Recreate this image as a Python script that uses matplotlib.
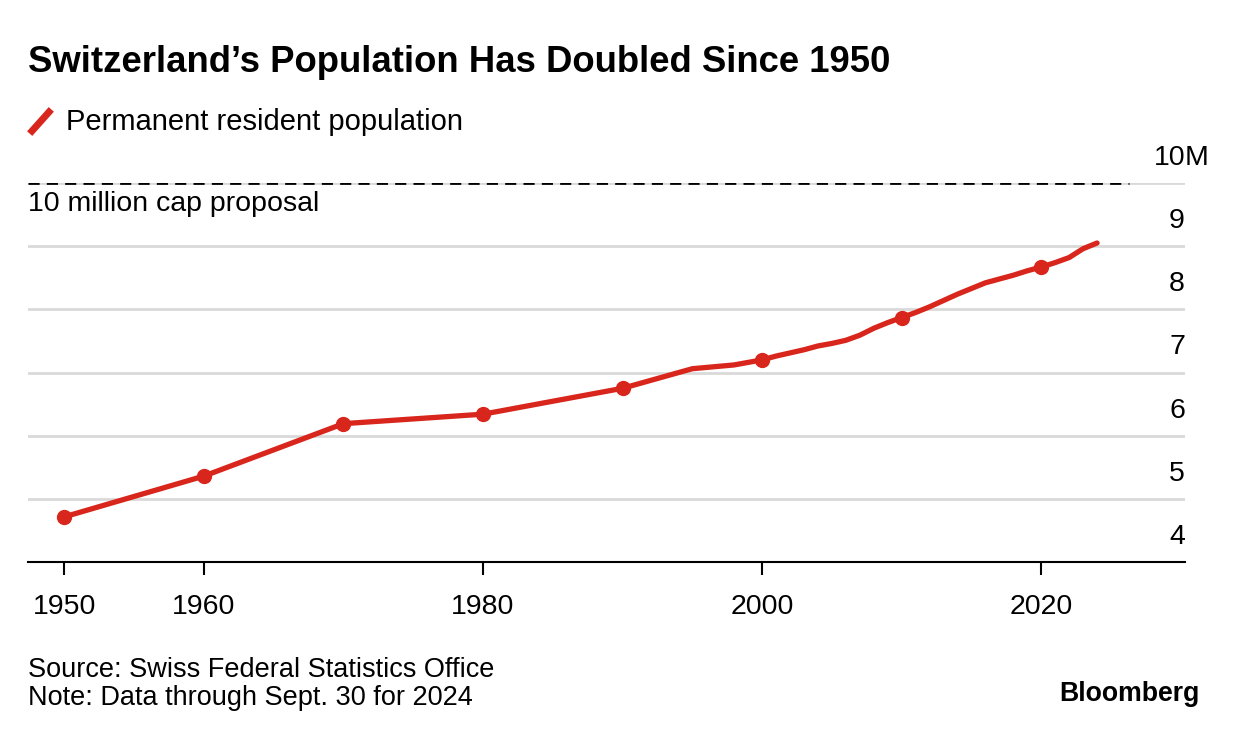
import matplotlib
matplotlib.use("Agg")
import matplotlib.pyplot as plt
import matplotlib.transforms as mtrans

plt.rcParams["font.family"] = ["Liberation Sans", "DejaVu Sans"]

# permanent resident population, millions
years = [1950, 1960, 1970, 1980, 1990, 1995, 1996, 1997, 1998, 1999,
         2000, 2001, 2002, 2003, 2004, 2005, 2006, 2007, 2008, 2009,
         2010, 2011, 2012, 2013, 2014, 2015, 2016, 2017, 2018, 2019,
         2020, 2021, 2022, 2023, 2024]
pop = [4.715, 5.36, 6.19, 6.34, 6.75, 7.06, 7.08, 7.10, 7.12, 7.16,
       7.20, 7.26, 7.31, 7.36, 7.42, 7.46, 7.51, 7.59, 7.70, 7.79,
       7.87, 7.95, 8.04, 8.14, 8.24, 8.33, 8.42, 8.48, 8.54, 8.61,
       8.67, 8.74, 8.82, 8.96, 9.05]
marker_years = [1950, 1960, 1970, 1980, 1990, 2000, 2010, 2020]
xticks = [1950, 1960, 1980, 2000, 2020]
yticks = [4, 5, 6, 7, 8, 9, 10]
cap = 10

red = "#d9261c"

fig = plt.figure(figsize=(12.4, 7.4), dpi=100)
ax = fig.add_axes([28 / 1240, 1 - 562 / 740, 1157 / 1240, 379 / 740])

ax.set_xlim(1947.4, 2030.3)
ax.set_ylim(4, 10)

for y in yticks[1:]:
    ax.axhline(y, color="#d9d9d9", lw=2, zorder=1)
ax.axhline(cap, xmax=0.952, color="black", lw=2, ls=(0, (4, 2.6)), zorder=2)

ax.plot(years, pop, color=red, lw=3.8, solid_capstyle="round", zorder=3)
mk = [pop[years.index(y)] for y in marker_years]
ax.plot(marker_years, mk, "o", color=red, ms=10, zorder=4)

for s in ["top", "right", "left"]:
    ax.spines[s].set_visible(False)
ax.spines["bottom"].set_linewidth(1.5)
ax.set_yticks([])
ax.set_xticks(xticks)
ax.set_xticklabels([str(x) for x in xticks], fontsize=20.5)
ax.tick_params(axis="x", length=9, width=1.5, pad=14)

tr = mtrans.blended_transform_factory(ax.transAxes, ax.transData)
off = mtrans.offset_copy(tr, fig=fig, x=0, y=18, units="dots")
for y in yticks:
    ax.text(1.0, y, str(y), transform=off, ha="right", va="baseline", fontsize=20.5)
ax.text(1.0, 10, "M", transform=off, ha="left", va="baseline", fontsize=20.5)

ax.text(0, 9.67, "10 million cap proposal", transform=tr, ha="left",
        va="center", fontsize=20.5)

fig.text(28 / 1240, 1 - 62 / 740, "Switzerland\u2019s Population Has Doubled Since 1950",
         fontsize=26.3, fontweight="bold", va="center", ha="left")
fig.lines.append(plt.Line2D([32 / 1240, 49 / 1240], [1 - 131 / 740, 1 - 112 / 740],
                            color=red, lw=5, transform=fig.transFigure))
fig.text(66 / 1240, 1 - 122 / 740, "Permanent resident population",
         fontsize=21, va="center", ha="left")
fig.text(28 / 1240, 1 - 670 / 740, "Source: Swiss Federal Statistics Office",
         fontsize=19.5, va="center", ha="left")
fig.text(28 / 1240, 1 - 698 / 740, "Note: Data through Sept. 30 for 2024",
         fontsize=19.5, va="center", ha="left")
fig.text(1200 / 1240, 1 - 694 / 740, "Bloomberg", fontsize=19.2, fontweight="bold",
         va="center", ha="right")

fig.savefig("out.png", dpi=100)
